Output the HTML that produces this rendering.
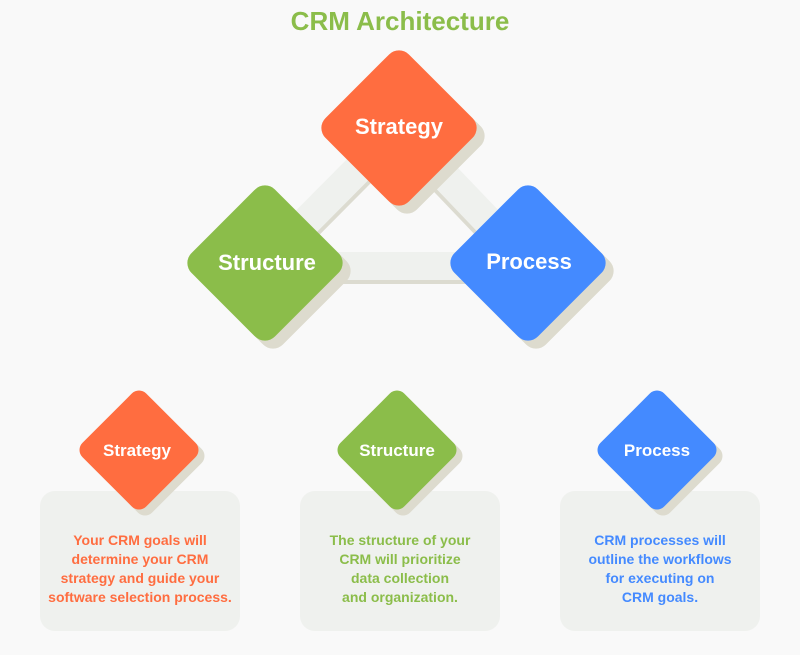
<!DOCTYPE html>
<html><head><meta charset="utf-8"><style>
body{margin:0;background:#f9f9f9;}
svg{display:block}
text{font-family:"Liberation Sans",sans-serif;font-weight:bold;}
</style></head><body>
<svg width="800" height="655" viewBox="0 0 800 655" xmlns="http://www.w3.org/2000/svg">
<rect width="800" height="655" fill="#f9f9f9"/>
<text x="400" y="30" text-anchor="middle" font-size="26" fill="#8bbd4a">CRM Architecture</text>
<g stroke-linecap="butt">
<line x1="265" y1="268" x2="528" y2="268" stroke="#dcdbd0" stroke-width="32"/>
<line x1="265" y1="266" x2="528" y2="266" stroke="#eff1ee" stroke-width="28"/>
<line x1="399" y1="128" x2="265" y2="263" stroke="#dcdbd0" stroke-width="32" transform="translate(2,2)"/>
<line x1="399" y1="128" x2="265" y2="263" stroke="#eff1ee" stroke-width="30"/>
<line x1="399" y1="128" x2="528" y2="263" stroke="#dcdbd0" stroke-width="32" transform="translate(-2,2)"/>
<line x1="399" y1="128" x2="528" y2="263" stroke="#eff1ee" stroke-width="30"/>
</g>
<g>
<rect x="-59" y="-59" width="118" height="118" rx="14" fill="#dddbce" transform="translate(407,136) rotate(45)"/>
<rect x="-59" y="-59" width="118" height="118" rx="14" fill="#ff6d40" transform="translate(399,128) rotate(45)"/>
<rect x="-59" y="-59" width="118" height="118" rx="14" fill="#dddbce" transform="translate(273,271) rotate(45)"/>
<rect x="-59" y="-59" width="118" height="118" rx="14" fill="#8bbd4a" transform="translate(265,263) rotate(45)"/>
<rect x="-59" y="-59" width="118" height="118" rx="14" fill="#dddbce" transform="translate(536,271) rotate(45)"/>
<rect x="-59" y="-59" width="118" height="118" rx="14" fill="#448aff" transform="translate(528,263) rotate(45)"/>
</g>
<text x="399" y="134" text-anchor="middle" font-size="22" fill="#fff">Strategy</text>
<text x="267" y="270" text-anchor="middle" font-size="22" fill="#fff">Structure</text>
<text x="529" y="269" text-anchor="middle" font-size="22" fill="#fff">Process</text>
<rect x="40" y="491" width="200" height="140" rx="15" fill="#eff1ee"/>
<rect x="300" y="491" width="200" height="140" rx="15" fill="#eff1ee"/>
<rect x="560" y="491" width="200" height="140" rx="15" fill="#eff1ee"/>
<rect x="-45" y="-45" width="90" height="90" rx="10" fill="#dddbce" transform="translate(145,456) rotate(45)"/>
<rect x="-45" y="-45" width="90" height="90" rx="10" fill="#ff6d40" transform="translate(139,450) rotate(45)"/>
<rect x="-45" y="-45" width="90" height="90" rx="10" fill="#dddbce" transform="translate(403,456) rotate(45)"/>
<rect x="-45" y="-45" width="90" height="90" rx="10" fill="#8bbd4a" transform="translate(397,450) rotate(45)"/>
<rect x="-45" y="-45" width="90" height="90" rx="10" fill="#dddbce" transform="translate(663,456) rotate(45)"/>
<rect x="-45" y="-45" width="90" height="90" rx="10" fill="#448aff" transform="translate(657,450) rotate(45)"/>
<text x="137" y="456" text-anchor="middle" font-size="17" fill="#fff">Strategy</text>
<text x="397" y="456" text-anchor="middle" font-size="17" fill="#fff">Structure</text>
<text x="657" y="456" text-anchor="middle" font-size="17" fill="#fff">Process</text>
<g font-size="14" text-anchor="middle">
<g fill="#ff6d40">
<text x="140" y="545">Your CRM goals will</text>
<text x="140" y="564">determine your CRM</text>
<text x="140" y="583">strategy and guide your</text>
<text x="140" y="602">software selection process.</text>
</g>
<g fill="#8bbd4a">
<text x="400" y="545">The structure of your</text>
<text x="400" y="564">CRM will prioritize</text>
<text x="400" y="583">data collection</text>
<text x="400" y="602">and organization.</text>
</g>
<g fill="#448aff">
<text x="660" y="545">CRM processes will</text>
<text x="660" y="564">outline the workflows</text>
<text x="660" y="583">for executing on</text>
<text x="660" y="602">CRM goals.</text>
</g>
</g>
</svg>
</body></html>
